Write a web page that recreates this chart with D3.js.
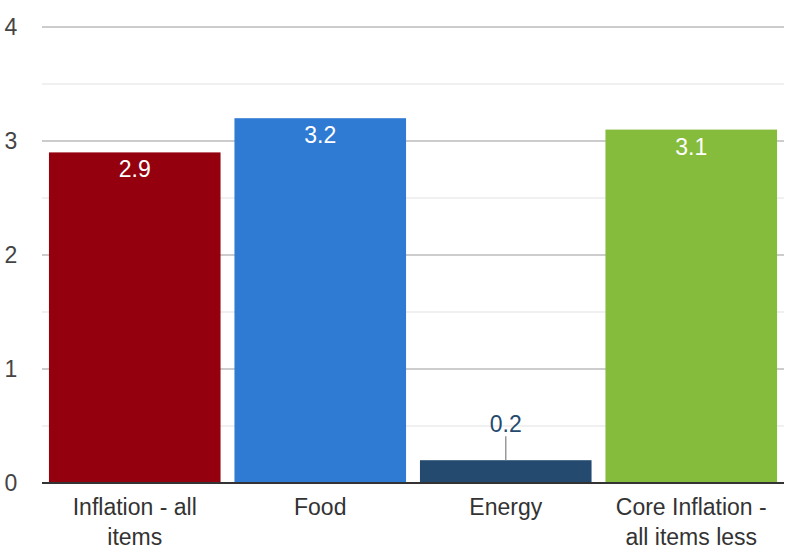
<!DOCTYPE html>
<html>
<head>
<meta charset="utf-8">
<script src="https://cdn.jsdelivr.net/npm/d3@7"></script>
<style>
  body { margin: 0; background: #fff; }
  text { font-family: "Liberation Sans", Arial, sans-serif; }
</style>
</head>
<body>
<div id="chart"></div>
<script>
var w = 802, h = 547;
var plotLeft = 42, plotRight = 784, plotTop = 27, plotBottom = 483;
var fs = "23px";

var categories = ["Inflation - all items", "Food", "Energy", "Core Inflation - all items less food and energy"];
var values = [2.9, 3.2, 0.2, 3.1];
var colors = ["#95000f", "#2f7bd3", "#244a6f", "#86bc3b"];
var yTicks = [0, 1, 2, 3, 4];
var yMinor = [0.5, 1.5, 2.5, 3.5];

var svg = d3.select("#chart").append("svg").attr("width", w).attr("height", h);

var x = d3.scaleBand().domain(categories).range([plotLeft, plotRight])
  .paddingInner(0.075).paddingOuter(0.0375);
var y = d3.scaleLinear().domain([0, 4]).range([plotBottom, plotTop]);

// grid
svg.selectAll("line.minor").data(yMinor).enter().append("line")
  .attr("x1", plotLeft).attr("x2", plotRight)
  .attr("y1", function (d) { return y(d); }).attr("y2", function (d) { return y(d); })
  .style("stroke", "#ebebeb").style("stroke-width", 1.5);
svg.selectAll("line.major").data(yTicks.slice(1)).enter().append("line")
  .attr("x1", plotLeft).attr("x2", plotRight)
  .attr("y1", function (d) { return y(d); }).attr("y2", function (d) { return y(d); })
  .style("stroke", "#cccccc").style("stroke-width", 2);

// y labels
svg.selectAll("text.ytick").data(yTicks).enter().append("text")
  .attr("x", 11).attr("y", function (d) { return y(d) + 8; })
  .attr("text-anchor", "middle").style("font-size", fs).style("fill", "#444")
  .text(function (d) { return d; });

// bars
svg.selectAll("rect.bar").data(values).enter().append("rect")
  .attr("x", function (d, i) { return x(categories[i]); })
  .attr("width", x.bandwidth())
  .attr("y", function (d) { return y(d); })
  .attr("height", function (d) { return plotBottom - y(d); })
  .style("fill", function (d, i) { return colors[i]; });

// baseline
svg.append("line").attr("x1", plotLeft).attr("x2", plotRight).attr("y1", plotBottom).attr("y2", plotBottom)
  .style("stroke", "#333").style("stroke-width", 2);

// value labels
values.forEach(function (d, i) {
  var cx = x(categories[i]) + x.bandwidth() / 2;
  if (plotBottom - y(d) > 40) {
    svg.append("text").attr("x", cx).attr("y", y(d) + 25)
      .attr("text-anchor", "middle").style("font-size", fs).style("fill", "#fff")
      .text(d);
  } else {
    svg.append("line").attr("x1", cx).attr("x2", cx).attr("y1", y(d) - 24).attr("y2", y(d))
      .style("stroke", "#999").style("stroke-width", 1.5);
    svg.append("text").attr("x", cx).attr("y", y(d) - 28)
      .attr("text-anchor", "middle").style("font-size", fs).style("fill", colors[i])
      .text(d);
  }
});

// category labels with wrapping
function wrapLines(str, maxw) {
  var tmp = svg.append("text").style("font-size", fs);
  var words = str.split(" "), lines = [], cur = "";
  words.forEach(function (wd) {
    var test = cur ? cur + " " + wd : wd;
    tmp.text(test);
    if (tmp.node().getComputedTextLength() > maxw && cur) {
      lines.push(cur);
      cur = wd;
    } else {
      cur = test;
    }
  });
  if (cur) lines.push(cur);
  tmp.remove();
  return lines;
}

categories.forEach(function (c, i) {
  var cx = x(c) + x.bandwidth() / 2;
  var lines = wrapLines(c, x.bandwidth() - 10);
  var t = svg.append("text").attr("text-anchor", "middle")
    .style("font-size", fs).style("fill", "#333");
  lines.forEach(function (ln, j) {
    t.append("tspan").attr("x", cx).attr("y", 515 + j * 30).text(ln);
  });
});
</script>
</body>
</html>
